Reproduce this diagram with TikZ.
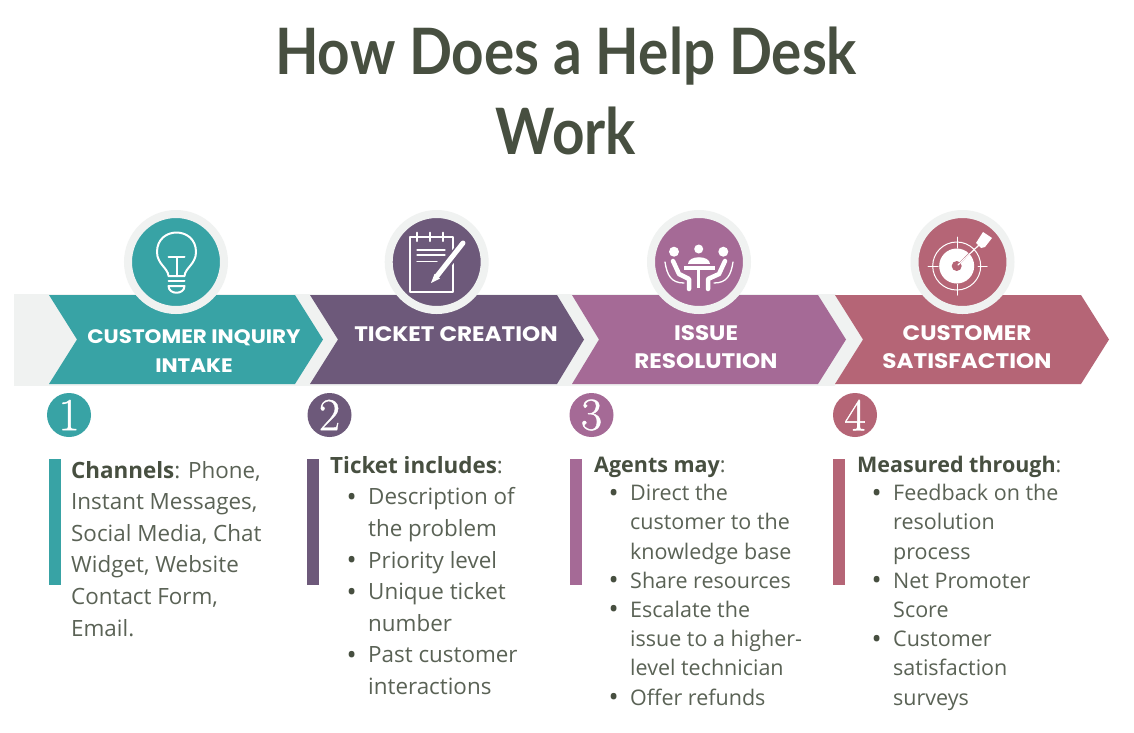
\documentclass[tikz,border=0pt]{standalone}
\usepackage{fontspec}
\setmainfont{Open Sans}
\newfontfamily\headfont{Poppins}[BoldFont={Poppins Bold},FakeStretch=1.1]
\newfontfamily\titlefont{Lato}[FakeStretch=0.885]
\newfontfamily\numfont{Latin Modern Roman}[FakeBold=0.8]
\definecolor{teal1}{HTML}{38A3A5}
\definecolor{plum1}{HTML}{6D597A}
\definecolor{pink1}{HTML}{A56A96}
\definecolor{rose1}{HTML}{B56576}
\definecolor{band}{HTML}{F0F2F1}
\definecolor{ink}{HTML}{474F40}
\definecolor{bodyink}{HTML}{5A6255}
\newcommand{\bu}{\llap{\raisebox{-1.5pt}{\color{ink}\fontsize{27}{0}\selectfont\textbullet}\hspace{11.5pt}}}
\newcommand{\hb}[1]{{\color{ink}\textbf{#1}}}
\tikzset{
  titletext/.style={text=ink,font=\titlefont\fontsize{64}{80}\selectfont\bfseries,align=center,inner sep=0pt},
  headtext/.style={text=white,font=\headfont\fontsize{19.5}{28.5}\selectfont\bfseries,align=center,inner sep=0pt},
  headbig/.style={headtext,font=\headfont\fontsize{21}{28.5}\selectfont\bfseries},
  bodyL/.style={text=bodyink,font=\fontsize{22.4}{31.6}\selectfont,align=left,inner sep=0pt,anchor=base west},
  bodyS/.style={text=bodyink,font=\fontsize{21.5}{29.2}\selectfont,align=left,inner sep=0pt,anchor=base west},
  numdisc/.style={circle,minimum size=44pt,inner sep=0pt,text=white,font=\numfont\fontsize{46}{46}\selectfont},
  icondisc/.style={circle,minimum size=96pt,inner sep=0pt,draw=band,line width=8pt},
  ic/.style={draw=white,line width=1.6pt,line cap=round,line join=round},
  person/.style={draw=white,line width=4.5pt,line cap=round,line join=round},
}
\begin{document}
\begin{tikzpicture}[x=1pt,y=-1pt]
\useasboundingbox (0,0) rectangle (1134,732);
\fill[white] (0,0) rectangle (1134,732);
% title
\node[titletext] (title) at (566,91) {How Does a Help Desk\\Work};
% band
\fill[band] (14,293.5) rectangle (835,385.5);
\fill[band] (835,293.5) -- (863,339.5) -- (835,385.5) -- cycle;
% chevrons
\fill[teal1] (49,295) -- (295,295) -- (323,339.5) -- (295,384) -- (49,384) -- (77,339.5) -- cycle;
\fill[plum1] (310,295) -- (557,295) -- (584,339.5) -- (557,384) -- (310,384) -- (338,339.5) -- cycle;
\fill[pink1] (572,295) -- (818,295) -- (846,339.5) -- (818,384) -- (572,384) -- (599,339.5) -- cycle;
\fill[rose1] (835,295) -- (1081,295) -- (1109,339.5) -- (1081,384) -- (835,384) -- (863,339.5) -- cycle;
% icon discs
\node[icondisc,fill=teal1] (d1) at (176,262) {};
\node[icondisc,fill=plum1] (d2) at (436.7,262) {};
\node[icondisc,fill=pink1] (d3) at (699,262) {};
\node[icondisc,fill=rose1] (d4) at (962.5,262) {};
% bulb
\draw[ic,line width=2pt] (168.5,276) .. controls (168,268) and (157,264) .. (157,252) .. controls (157,226) and (196,226) .. (196,252) .. controls (196,264) and (185,268) .. (184.5,276) -- cycle;
\draw[ic,line width=2pt] (168.5,257) -- (184.5,257) (176.5,257) -- (176.5,276);
\draw[ic,line width=2pt] (168.5,281) -- (184.5,281);
\draw[ic,line width=2pt] (168.5,286) -- (184.5,286) .. controls (184.5,295) and (168.5,295) .. (168.5,286) -- cycle;
% notepad
\draw[ic,line width=2pt] (409.5,237) rectangle (452.5,291.5);
\draw[ic,line width=2pt] (417.3,232.5) -- (417.3,241) (430,232.5) -- (430,241) (443.3,232.5) -- (443.3,241);
\draw[ic,line width=1.2pt] (417,250) -- (445,250) (417,255) -- (445,255) (417,261.5) -- (437,261.5);
\draw[plum1,line width=9pt] (437,277) -- (462,245);
\draw[white,line width=5pt,line cap=round] (437,276) -- (463,243);
\fill[white] (431,283) -- (434.5,274) -- (440,278.5) -- cycle;
% meeting
\fill[white] (674,251.7) circle (5);
\fill[white] (698.7,249) circle (4.5);
\fill[white] (723.3,251.7) circle (5);
\fill[white] (688,263.5) .. controls (688,255) and (710,255) .. (710,263.5) -- cycle;
\fill[white] (684,265.5) rectangle (715,269.5);
\draw[person] (673,261) -- (679,274) -- (689,279) -- (689,289);
\draw[person] (725,261) -- (719,274) -- (708,279) -- (708,289);
\fill[white] (697,270) rectangle (700,288);
\draw[ic,line width=1.3pt] (665,262) .. controls (667,275) and (671,283) .. (684,283);
\draw[ic,line width=1.3pt] (733,262) .. controls (731,275) and (727,283) .. (714,283);
% target
\draw[ic,line width=1pt] (956.7,266) circle (24);
\fill[white] (956.7,266) circle (17.5);
\draw[ic,line width=1pt] (957.5,237) -- (957.5,248) (957.5,284) -- (957.5,295) (928,266) -- (938,266) (978,266) -- (987,266);
\fill[rose1] (956.7,266) circle (5);
\draw[rose1,line width=1.5pt] (957,266) -- (972,251);
\draw[ic,line width=1.2pt] (958,265) -- (979,245);
\fill[white] (976,243) -- (983,232) -- (992,238) -- (985,247) -- (981,248) -- cycle;
% head labels
\node[headtext] (h1) at (194,351) {CUSTOMER INQUIRY\\INTAKE};
\node[headbig] (h2) at (456,334) {TICKET CREATION};
\node[headbig] (h3) at (706,347) {ISSUE\\RESOLUTION};
\node[headbig] (h4) at (967,347) {CUSTOMER\\SATISFACTION};
% numbers
\node[numdisc,fill=teal1] (n1) at (69,415) {1};
\node[numdisc,fill=plum1] (n2) at (329.5,415) {2};
\node[numdisc,fill=pink1] (n3) at (591.5,415) {3};
\node[numdisc,fill=rose1] (n4) at (855,415) {4};
% bars
\fill[teal1] (49,459) rectangle (61,585);
\fill[plum1] (307,459) rectangle (319,585);
\fill[pink1] (570,459) rectangle (582,585);
\fill[rose1] (833,459) rectangle (845,585);
% body
\node[bodyL] (b1) at (71,636) {\hb{Channels}: Phone,\\Instant Messages,\\Social Media, Chat\\Widget, Website\\Contact Form,\\Email.};
\node[bodyL] (b2h) at (330,473) {\hb{Ticket includes}:};
\node[bodyL] (b2) at (368,694.5) {\bu Description of\\the problem\\\bu Priority level\\\bu Unique ticket\\number\\\bu Past customer\\interactions};
\node[bodyS] (b3h) at (594,472) {\hb{Agents may}:};
\node[bodyS] (b3) at (630,705) {\bu Direct the\\customer to the\\knowledge base\\\bu Share resources\\\bu Escalate the\\issue to a higher-\\level technician\\\bu Offer refunds};
\node[bodyS] (b4h) at (857,472) {\hb{Measured through}:};
\node[bodyS] (b4) at (893,705) {\bu Feedback on the\\resolution\\process\\\bu Net Promoter\\Score\\\bu Customer\\satisfaction\\surveys};
\end{tikzpicture}
\end{document}
